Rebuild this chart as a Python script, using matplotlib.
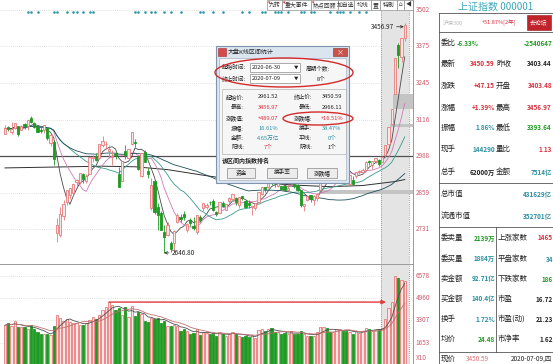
import numpy as np
import pandas as pd
import matplotlib
matplotlib.use('Agg')
import matplotlib.pyplot as plt
from matplotlib.patches import Rectangle, Ellipse
from matplotlib.transforms import blended_transform_factory

plt.rcParams['font.family'] = ['Noto Sans CJK SC', 'DejaVu Sans']

# ---------------- data (SSE Composite, 2020-01-02 .. 2020-07-09) ----------------
opens = [3066.3, 3089.0, 3070.9, 3085.5, 3094.2, 3080.7, 3099.6, 3094.4, 3122.0, 3104.2,
         3091.5, 3078.6, 3078.0, 3085.7, 3034.0, 3038.0,
         2716.7, 2708.8, 2778.0, 2826.0, 2851.0, 2858.0, 2895.0, 2895.0, 2923.0, 2900.0,
         2924.0, 2980.0, 2987.0, 2981.0, 3026.0, 3029.0, 3004.0, 2985.0, 2995.0, 2924.0,
         2899.0, 3006.0, 2981.0, 3029.0, 3038.0, 2987.0, 2918.0, 3001.0, 2936.0, 2804.0,
         2901.0, 2807.0, 2787.0, 2720.0, 2711.0, 2681.0, 2680.0, 2754.0, 2773.0, 2784.0,
         2728.0, 2764.0,
         2743.0, 2720.0, 2772.0, 2805.0, 2807.0, 2827.0, 2829.0, 2792.0, 2787.0, 2824.0,
         2799.0, 2831.0, 2837.0, 2841.0, 2814.0, 2846.0, 2830.0, 2822.0, 2810.0, 2806.0,
         2827.0,
         2853.0, 2878.0, 2879.0, 2901.0, 2893.0, 2884.0, 2884.0, 2881.0, 2868.0, 2896.0,
         2889.0, 2886.0, 2869.0, 2812.0, 2832.0, 2849.0, 2832.0, 2839.0,
         2869.0, 2914.0, 2935.0, 2924.0, 2915.0, 2934.0, 2938.0, 2954.0, 2943.0, 2888.0,
         2903.0, 2917.0, 2932.0, 2930.0, 2937.0, 2969.0, 2957.0, 2970.0, 2974.0, 2966.3,
         2991.0, 3030.0, 3100.0, 3205.0, 3380.0, 3335.0, 3403.5]
highs = [3098.1, 3093.8, 3107.2, 3105.5, 3094.2, 3097.3, 3105.2, 3115.6, 3127.2, 3105.9,
         3092.7, 3092.0, 3095.9, 3085.7, 3064.4, 3045.5,
         2771.0, 2807.0, 2832.0, 2869.0, 2876.0, 2891.0, 2908.0, 2926.0, 2928.0, 2924.0,
         2983.0, 2990.0, 2999.0, 3030.0, 3058.0, 3041.0, 3025.0, 3009.0, 3002.0, 2948.0,
         2970.0, 3026.0, 3012.0, 3074.0, 3048.0, 2989.0, 3000.0, 3010.0, 2944.0, 2910.0,
         2904.0, 2821.0, 2793.0, 2744.0, 2756.0, 2689.0, 2726.0, 2786.0, 2785.0, 2795.0,
         2751.0, 2769.0,
         2773.0, 2780.0, 2780.0, 2820.0, 2822.0, 2829.0, 2838.0, 2794.0, 2827.0, 2830.0,
         2820.0, 2843.0, 2852.0, 2843.0, 2844.0, 2847.0, 2834.0, 2832.0, 2812.0, 2822.0,
         2861.0,
         2878.0, 2880.0, 2901.0, 2909.0, 2899.0, 2898.0, 2884.0, 2885.0, 2888.0, 2901.0,
         2894.0, 2889.0, 2869.0, 2819.0, 2846.0, 2852.0, 2849.0, 2852.4,
         2915.0, 2924.0, 2942.0, 2934.0, 2931.0, 2954.0, 2956.0, 2957.0, 2951.0, 2921.0,
         2918.0, 2932.0, 2938.0, 2945.0, 2971.0, 2973.0, 2970.0, 2980.0, 2976.0, 2987.0,
         3025.0, 3091.0, 3152.8, 3332.9, 3387.0, 3403.7, 3456.97]
lows = [3066.3, 3074.5, 3065.3, 3084.3, 3059.1, 3080.7, 3084.2, 3081.1, 3105.5, 3086.1,
        3072.8, 3070.6, 3069.9, 3046.0, 3021.8, 2955.4,
        2685.3, 2701.0, 2764.0, 2815.0, 2838.0, 2850.0, 2884.0, 2890.0, 2893.0, 2894.0,
        2923.0, 2966.0, 2970.0, 2978.0, 3019.0, 3012.0, 2982.0, 2958.0, 2977.0, 2878.0,
        2899.0, 2976.0, 2974.0, 3026.0, 3020.0, 2940.0, 2915.0, 2966.0, 2910.0, 2799.0,
        2784.0, 2728.0, 2728.0, 2646.8, 2707.0, 2649.0, 2651.0, 2751.0, 2755.0, 2764.0,
        2721.0, 2741.0,
        2729.0, 2714.0, 2754.0, 2795.0, 2803.0, 2817.0, 2794.0, 2776.0, 2786.0, 2807.0,
        2799.0, 2822.0, 2830.0, 2815.0, 2804.0, 2834.0, 2806.0, 2806.0, 2779.0, 2798.0,
        2826.0,
        2852.0, 2862.0, 2876.0, 2885.0, 2879.0, 2878.0, 2867.0, 2866.0, 2864.0, 2890.0,
        2875.0, 2866.0, 2810.0, 2796.0, 2830.0, 2825.0, 2814.0, 2831.0,
        2869.0, 2905.0, 2915.0, 2911.0, 2910.0, 2934.0, 2933.0, 2938.0, 2917.0, 2887.0,
        2890.0, 2911.0, 2923.0, 2926.0, 2937.0, 2957.0, 2942.0, 2965.0, 2952.0, 2966.11,
        2985.0, 3025.0, 3099.0, 3205.0, 3297.0, 3320.0, 3393.64]
closes = [3085.2, 3083.8, 3083.4, 3104.8, 3066.9, 3094.9, 3092.3, 3115.6, 3106.8, 3090.0,
          3074.1, 3075.5, 3095.8, 3052.1, 3060.8, 2976.5,
          2746.6, 2783.3, 2818.1, 2866.5, 2876.0, 2890.5, 2901.7, 2926.9, 2906.1, 2917.0,
          2983.6, 2985.0, 2975.4, 3030.2, 3039.7, 3031.2, 3013.1, 2987.9, 2991.3, 2880.3,
          2970.9, 2992.9, 3011.7, 3071.7, 3034.5, 2943.3, 2996.8, 2968.5, 2923.5, 2887.4,
          2789.3, 2779.6, 2728.8, 2702.1, 2745.6, 2660.2, 2722.4, 2781.6, 2764.9, 2772.2,
          2747.2, 2750.3,
          2734.5, 2780.6, 2764.0, 2820.8, 2815.4, 2825.9, 2796.6, 2783.1, 2827.3, 2811.2,
          2819.9, 2838.5, 2852.6, 2827.0, 2844.0, 2838.5, 2808.5, 2815.5, 2810.0, 2822.4,
          2860.1,
          2878.1, 2871.5, 2895.3, 2894.8, 2891.6, 2898.1, 2870.3, 2868.5, 2875.4, 2898.6,
          2883.7, 2867.9, 2813.8, 2818.0, 2846.6, 2836.8, 2846.2, 2852.4,
          2915.4, 2921.4, 2923.4, 2919.3, 2930.8, 2937.8, 2956.1, 2943.8, 2920.9, 2919.7,
          2890.0, 2931.8, 2935.9, 2939.3, 2967.6, 2965.3, 2970.6, 2979.6, 2961.5, 2984.7,
          3026.0, 3090.6, 3152.8, 3332.9, 3345.3, 3403.4, 3450.59]
volumes = [2950, 3150, 2900, 3250, 2850, 2800, 2800, 2700, 3000, 2700,
           2450, 2300, 2300, 2350, 2250, 2900,
           3700, 3500, 3300, 3400, 3200, 3100, 3150, 2950, 3000, 3150,
           3350, 3600, 3450, 3700, 4050, 4300, 4660, 4450, 4100, 4250,
           3700, 4300, 3600, 4350, 3650, 3900, 3800, 3300, 3200, 3500,
           3450, 3500, 3150, 3300, 2900, 2900, 2950, 2900, 2550, 2700,
           2500, 2300,
           2400, 2700, 2250, 2450, 2400, 2300, 2350, 2200, 2450, 2300,
           2200, 2350, 2450, 2350, 2200, 2100, 2150, 2100, 2250, 2050,
           2600,
           2700, 2500, 2650, 2750, 2450, 2450, 2350, 2400, 2300, 2500,
           2350, 2300, 2500, 2300, 2150, 2200, 2200, 2450,
           2850, 2800, 2750, 2450, 2450, 2700, 2650, 2550, 2550, 2450,
           2350, 2500, 2400, 2500, 2750, 2700, 2550, 2600, 2650, 2750,
           3400, 4200, 4650, 6578, 6450, 6300, 6200]

# long moving average (every 10th bar, plus the last)
ma_long_days = [0, 10, 20, 30, 40, 50, 60, 70, 80, 90, 100, 110, 120, 123]
ma_long_vals = [2946, 2948, 2950, 2952, 2950, 2940, 2922, 2905, 2893, 2885, 2880, 2884, 2898, 2905]
ref_level = 2988

price_ticks = [3502, 3375, 3245, 3116, 2988, 2859, 2731]
vol_ticks = [6578, 4960, 3307, 1653]
event_days = [7, 8, 10, 15, 16, 19, 21, 22, 24, 26, 27, 40, 41, 43, 45, 46, 49, 51, 54,
              60, 61, 64, 67, 73, 75, 79, 80, 83, 84, 85, 87, 91, 92, 94, 95, 100, 102,
              103, 104, 106, 109, 111]
gap_start = [97, 119, 120]
gap_low = [2852.4, 3091.0, 3152.8]
gap_high = [2869.0, 3099.0, 3205.0]
sel_start, sel_end = 116, 123
high_idx, low_idx = 123, 49

toolbar_tabs = ['九转', '重大事件', '热点回顾', '加自选', '均线', '置', '特刷', '⌂', '◀']

# right info panel
title_text = '上证指数 000001'
blockA_l1 = ['委比', '最新', '涨跌', '涨幅', '振幅', '现手', '总手']
blockA_v1 = ['-6.33%', '3450.59', '+47.15', '+1.39%', '1.86%', '144290', '62000万']
blockA_l2 = ['', '昨收', '开盘', '最高', '最低', '量比', '金额']
blockA_v2 = ['-2540647', '3403.44', '3403.48', '3456.97', '3393.64', '1.13', '7514亿']
blockB_l = ['总市值', '流通市值']
blockB_v = ['431629亿', '352701亿']
blockC_l1 = ['委卖量', '委买量', '卖金额', '买金额', '换手', '均价']
blockC_v1 = ['2139万', '1884万', '92.71亿', '140.4亿', '1.72%', '24.48']
blockC_l2 = ['上涨家数', '平盘家数', '下跌家数', '市盈', '市盈(动)', '市净率']
blockC_v2 = ['1465', '34', '186', '16.72', '21.23', '1.62']

# dialog
dlg_title = '大盘K线区间统计'
dlg_start, dlg_end, dlg_count = '2020-06-30', '2020-07-09', '8个'
dlg_l1 = ['起始价:', '最高:', '涨跌值:', '振幅:', '金额:', '阳线:']
dlg_v1 = ['2961.52', '3456.97', '+489.07', '16.61%', '4.65万亿', '7个']
dlg_l2 = ['终止价:', '最低:', '涨跌幅:', '换手:', '平线:', '阴线:']
dlg_v2 = ['3450.59', '2966.11', '+16.51%', '38.47%', '0个', '1个']
dlg_buttons = ['资金', '换手率', '涨跌幅']

# ---------------- styles ----------------
RED = '#d8303c'
PINK_EDGE = '#e77a7a'
PINK_FACE = '#fde6e6'
GREEN = '#1e9a22'
TEAL = '#2a8fa3'
BLACK = '#222222'

W, H = 553, 364
fig = plt.figure(figsize=(W / 100, H / 100), dpi=100)
fig.patch.set_facecolor('white')

def fx(x):
    return x / W

def fy(y):
    return 1 - y / H

SP, X0 = 3.25, 5.0
chart_right = 413
xl = (-X0 / SP, (chart_right - X0) / SP)

ax = fig.add_axes([0, fy(263), fx(chart_right), 263 / H])
axv = fig.add_axes([0, 0, fx(chart_right), 101 / H])
for a in (ax, axv):
    a.set_xlim(*xl)
    a.set_xticks([])
    a.set_yticks([])
    for s in a.spines.values():
        s.set_visible(False)
    a.set_facecolor('white')

ax.set_ylim(2611.2, 3537.2)
axv.set_ylim(110, 7531)

o = np.array(opens); h = np.array(highs); l = np.array(lows); c = np.array(closes)
v = np.array(volumes)
idx = np.arange(len(c))
up = c >= o
dn = ~up

# grid
for t in price_ticks:
    ax.axhline(t, color='#c8c8c8', lw=0.5, ls=(0, (1, 2)), zorder=0)
ax.axhline(ref_level, color='#505050', lw=0.9, zorder=1.2)
for t in vol_ticks:
    axv.axhline(t, color='#c8c8c8', lw=0.5, ls=(0, (1, 2)), zorder=0)

# selection shading
for a in (ax, axv):
    a.axvspan(sel_start - 0.4, sel_end + 1.4, color='#e4e4e4', zorder=0.5, lw=0)
    a.axvline(sel_start - 0.4, color='#7080a0', lw=0.6, ls=(0, (1, 1.5)), zorder=0.6)
    a.axvline(sel_end + 1.4, color='#7080a0', lw=0.6, ls=(0, (1, 1.5)), zorder=0.6)

# gap bands
for s, lo_, hi_ in zip(gap_start, gap_low, gap_high):
    ax.fill_between([s - 0.5, xl[1]], lo_, hi_, color='#c4c4c4', lw=0, zorder=0.8)

# moving averages
cs = pd.Series(c)
ma_styles = [(5, '#4a4a4a'), (10, '#d07ab8'), (20, '#3a9a8a'), (60, '#1d4f5a')]
for n, col in ma_styles:
    ax.plot(idx, cs.rolling(n, min_periods=1).mean(), color=col, lw=0.6, zorder=1.5)
ax.plot(ma_long_days, ma_long_vals, color='#303030', lw=0.7, zorder=1.4)

# candles
bw = 0.72
ax.vlines(idx[up], l[up], h[up], color=PINK_EDGE, lw=0.6, zorder=2)
ax.vlines(idx[dn], l[dn], h[dn], color=GREEN, lw=0.6, zorder=2)
body_lo = np.minimum(o, c)
body_h = np.maximum(np.abs(c - o), 1.5)
ax.bar(idx[up], body_h[up], bottom=body_lo[up], width=bw, facecolor=PINK_FACE,
       edgecolor=PINK_EDGE, lw=0.6, zorder=3)
ax.bar(idx[dn], body_h[dn], bottom=body_lo[dn], width=bw, facecolor=GREEN,
       edgecolor=GREEN, lw=0.6, zorder=3)

# extreme labels
ax.annotate(f'{h[high_idx]:.2f}', xy=(high_idx - 0.3, h[high_idx] - 14), xytext=(119.6, h[high_idx] - 14),
            ha='right', va='center', fontsize=4.6, color=BLACK,
            arrowprops=dict(arrowstyle='->', lw=0.5, color=BLACK, shrinkA=0, shrinkB=0), zorder=6)
ax.annotate(f'{l[low_idx]:.2f}', xy=(low_idx, l[low_idx]), xytext=(low_idx + 2.3, l[low_idx]),
            ha='left', va='center', fontsize=4.6, color=BLACK,
            arrowprops=dict(arrowstyle='->', lw=0.5, color=BLACK, shrinkA=0, shrinkB=0), zorder=6)

# event dots
tr = blended_transform_factory(ax.transData, ax.transAxes)
ax.scatter(event_days, [1 - 12 / 263] * len(event_days), s=3.5, color='#2f96a8',
           transform=tr, zorder=4, lw=0)

# volume bars
axv.bar(idx[up], v[up], width=bw, facecolor=PINK_FACE, edgecolor=PINK_EDGE, lw=0.6, zorder=3)
axv.bar(idx[dn], v[dn], width=bw, facecolor=GREEN, edgecolor=GREEN, lw=0.6, zorder=3)
vs = pd.Series(v)
axv.plot(idx, vs.rolling(5, min_periods=1).mean(), color='#505050', lw=0.6, zorder=4)
axv.plot(idx, vs.rolling(10, min_periods=1).mean(), color='#c07070', lw=0.6, zorder=4)
peak = int(np.argmax(v[:100]))
axv.annotate('', xy=(sel_start + 1.2, v[peak]), xytext=(peak, v[peak]),
             arrowprops=dict(arrowstyle='-|>', color='#e03a3a', lw=1.0, mutation_scale=6,
                             shrinkA=0, shrinkB=0), zorder=5)

# axis labels on the right of chart
trp = blended_transform_factory(ax.transAxes, ax.transData)
for t in price_ticks:
    ax.text(1.006, t, str(t), transform=trp, fontsize=4.6, color='#cc5a6a',
            va='center', ha='left', clip_on=False)
trv = blended_transform_factory(axv.transAxes, axv.transData)
for t in vol_ticks:
    axv.text(1.006, t, str(t), transform=trv, fontsize=4.6, color='#cc5a6a',
             va='center', ha='left', clip_on=False)
axv.text(1.006, 520, 'X10', transform=trv, fontsize=4.6, color='#cc5a6a',
         va='center', ha='left', clip_on=False)

# ---------------- overlay (pixel coordinates) ----------------
ov = fig.add_axes([0, 0, 1, 1])
ov.set_xlim(0, W)
ov.set_ylim(H, 0)
ov.axis('off')

# chart borders
ov.plot([chart_right, chart_right], [0, H], color='#9a9a9a', lw=0.7)
ov.plot([0, chart_right], [264, 264], color='#9a9a9a', lw=0.7)

# toolbar
tab_edges = [267, 282, 311, 338, 354, 371, 380, 397, 404, 413]
for i, lab in enumerate(toolbar_tabs):
    x0, x1 = tab_edges[i], tab_edges[i + 1]
    ov.add_patch(Rectangle((x0, 0), x1 - x0, 9.5, facecolor='white', edgecolor='#909090', lw=0.5))
    ov.text((x0 + x1) / 2, 5, lab, fontsize=4.2, ha='center', va='center', color='#333333')
    if i < 3:
        ov.text(x0 + 0.5, 2.5, '▾', fontsize=3.5, ha='left', va='center', color='#d03030')

# dialog
ov.add_patch(Rectangle((216, 46), 133, 137, facecolor='#dbe5f0', edgecolor='#7f94ad', lw=0.8, zorder=5))
ov.add_patch(Rectangle((219, 58), 127, 122, facecolor='#f6f6f6', edgecolor='#a8b4c4', lw=0.5, zorder=5))
ov.add_patch(Rectangle((218, 48), 8, 8, facecolor='#d54a4a', edgecolor='#a03030', lw=0.4, zorder=6))
ov.text(228, 52, dlg_title, fontsize=4.3, ha='left', va='center', color=BLACK, zorder=6)
ov.add_patch(Rectangle((333, 48), 14, 8, facecolor='#c9524a', edgecolor='#8a2a2a', lw=0.4, zorder=6))
ov.text(340, 52, '×', fontsize=5, ha='center', va='center', color='white', zorder=7)

for yy, lab, val in [(67.5, '起始时间:', dlg_start), (78.5, '终止时间:', dlg_end)]:
    ov.text(222, yy, lab, fontsize=4.1, ha='left', va='center', color=BLACK, zorder=6)
    ov.add_patch(Rectangle((250, yy - 4.2), 50, 8.4, facecolor='white', edgecolor='#8c8c8c', lw=0.5, zorder=6))
    ov.text(252, yy, val, fontsize=4.1, ha='left', va='center', color=BLACK, zorder=7)
    ov.text(296, yy, '▼', fontsize=3.2, ha='center', va='center', color=BLACK, zorder=7)
ov.text(306, 68, '周期个数:', fontsize=4.1, ha='left', va='center', color=BLACK, zorder=6)
ov.text(321, 79, dlg_count, fontsize=4.1, ha='center', va='center', color=BLACK, zorder=6)
ov.add_patch(Ellipse((284, 72.5), 138, 29, facecolor='none', edgecolor='#d42a2a', lw=1.0, zorder=8))

ov.add_patch(Rectangle((222, 89), 124, 65, facecolor='none', edgecolor='#b5b5b5', lw=0.5, zorder=6))
dlg_rows = [97, 107.5, 118, 128, 138, 147.5]
c1 = [BLACK, RED, RED, TEAL, TEAL, RED]
c2 = [BLACK, BLACK, RED, TEAL, TEAL, BLACK]
for yy, a1, b1, a2, b2, k1, k2 in zip(dlg_rows, dlg_l1, dlg_v1, dlg_l2, dlg_v2, c1, c2):
    ov.text(244, yy, a1, fontsize=4.1, ha='right', va='center', color=BLACK, zorder=6)
    ov.text(268, yy, b1, fontsize=4.1, ha='center', va='center', color=k1, zorder=6)
    ov.text(312, yy, a2, fontsize=4.1, ha='right', va='center', color=BLACK, zorder=6)
    ov.text(332, yy, b2, fontsize=4.1, ha='center', va='center', color=k2, zorder=6)
ov.add_patch(Ellipse((318, 118.5), 70, 13, facecolor='none', edgecolor='#d42a2a', lw=1.0, zorder=8))

ov.text(222, 161, '该区间内指数排名', fontsize=4.3, ha='left', va='center', color=BLACK,
        fontweight='bold', zorder=6)
for (x0, x1), lab in zip([(227, 255), (267, 297), (307, 337)], dlg_buttons):
    ov.add_patch(Rectangle((x0, 167.5), x1 - x0, 10.5, facecolor='#ececec', edgecolor='#8a8a8a', lw=0.5, zorder=6))
    ov.text((x0 + x1) / 2, 172.8, lab, fontsize=4.1, ha='center', va='center', color=BLACK, zorder=7)

# right info panel
PX = 439
ov.text(496, 6.5, title_text, fontsize=7.2, ha='center', va='center', color='#3aa6b8')
lw_t = 0.6
lc = '#555555'
ov.plot([PX, PX], [13, H], color=lc, lw=lw_t)
ov.plot([PX, W], [13, 13], color=lc, lw=lw_t)
for yy in [32, 183, 227, 352]:
    ov.plot([PX, W], [yy, yy], color=lc, lw=lw_t)
ov.plot([496, 496], [227, 352], color=lc, lw=lw_t)

ov.text(443, 23, '沪深300', fontsize=4.0, ha='left', va='center', color='#b8b8b8')
ov.text(499, 23, '+51.87%[2年]', fontsize=4.0, ha='center', va='center', color=RED)
ov.add_patch(Rectangle((527, 15), 24, 15, facecolor='#c0242a', edgecolor='#901818', lw=0.4))
ov.text(539, 22.5, '去论坛', fontsize=4.2, ha='center', va='center', color='white')

LF, VF = 5.4, 4.6
rowsA = [43, 64, 86, 108, 128, 149, 172]
colA1 = [GREEN, RED, RED, RED, TEAL, TEAL, BLACK]
colA2 = [GREEN, BLACK, RED, RED, GREEN, RED, TEAL]
for k, (yy, a1, b1, a2, b2) in enumerate(zip(rowsA, blockA_l1, blockA_v1, blockA_l2, blockA_v2)):
    ov.text(441, yy, a1, fontsize=LF, ha='left', va='center', color=BLACK)
    xv = 479 if k == 0 else 495
    ov.text(xv, yy, b1, fontsize=VF, ha='right', va='center', color=colA1[k], fontweight='bold')
    if a2:
        ov.text(496, yy, a2, fontsize=LF, ha='left', va='center', color=BLACK)
    ov.text(552, yy, b2, fontsize=VF, ha='right', va='center', color=colA2[k], fontweight='bold')
for yy, a1, b1 in zip([194, 216], blockB_l, blockB_v):
    ov.text(441, yy, a1, fontsize=LF, ha='left', va='center', color=BLACK)
    ov.text(552, yy, b1, fontsize=VF, ha='right', va='center', color=TEAL, fontweight='bold')
rowsC = [238, 259, 279, 299, 319, 339]
colC1 = [GREEN, TEAL, TEAL, TEAL, TEAL, GREEN]
colC2 = [RED, TEAL, GREEN, BLACK, BLACK, BLACK]
for k, (yy, a1, b1, a2, b2) in enumerate(zip(rowsC, blockC_l1, blockC_v1, blockC_l2, blockC_v2)):
    ov.text(441, yy, a1, fontsize=LF, ha='left', va='center', color=BLACK)
    ov.text(495, yy, b1, fontsize=VF, ha='right', va='center', color=colC1[k], fontweight='bold')
    ov.text(498, yy, a2, fontsize=LF, ha='left', va='center', color=BLACK)
    ov.text(553, yy, b2, fontsize=VF, ha='right', va='center', color=colC2[k], fontweight='bold')
ov.text(441, 359, '现价', fontsize=LF, ha='left', va='center', color=BLACK)
ov.text(477, 359, '3450.59', fontsize=VF, ha='center', va='center', color='#e0707a')
ov.text(552, 359, '2020-07-09,四', fontsize=VF, ha='right', va='center', color=BLACK)

fig.savefig('out.png', dpi=100, facecolor='white')
